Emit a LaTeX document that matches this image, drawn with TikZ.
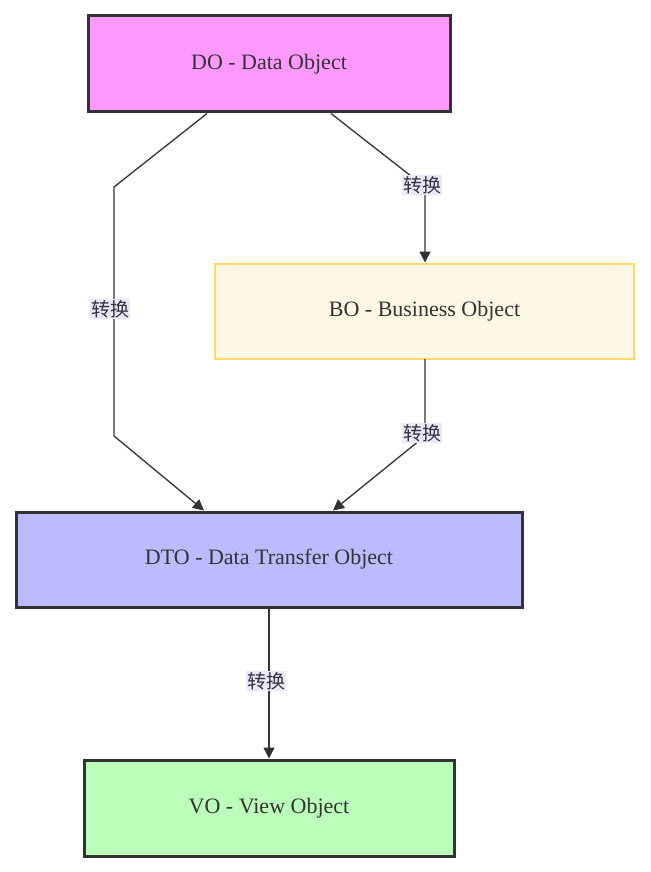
\documentclass[tikz,border=0pt]{standalone}
\usepackage{fontspec}
\setmainfont{Liberation Serif}
\newfontfamily\cjk{Noto Sans CJK SC}
\usetikzlibrary{arrows.meta}
\definecolor{dark}{HTML}{333333}
\definecolor{lbl}{HTML}{E8E8FF}
\begin{document}
\begin{tikzpicture}[x=1pt,y=-1pt,
  box/.style={draw=dark,line width=3pt,minimum height=96pt,font=\fontsize{22}{26}\selectfont,text=dark},
  edge/.style={draw=dark,line width=1.3pt,-{Triangle[length=11pt,width=11pt]}},
  lab/.style={fill=lbl,font=\cjk\fontsize{19}{22}\selectfont,text=dark,inner sep=1pt}]
\useasboundingbox (0,0) rectangle (650,872);
\node[box,fill={rgb,255:red,255;green,153;blue,255},minimum width=362pt] (do) at (269,64) {DO - Data Object};
\node[box,draw={rgb,255:red,255;green,217;blue,102},line width=1.3pt,fill={rgb,255:red,255;green,247;blue,230},minimum width=419pt,minimum height=95pt] (bo) at (424.5,311.5) {BO - Business Object};
\node[box,fill={rgb,255:red,187;green,187;blue,255},minimum width=506pt,minimum height=95pt] (dto) at (269,559.5) {DTO - Data Transfer Object};
\node[box,fill={rgb,255:red,187;green,255;blue,187},minimum width=370pt] (vo) at (269,808) {VO - View Object};
\coordinate (a1) at (114,187); \coordinate (a2) at (114,436);
\coordinate (b1) at (425,187); \coordinate (c1) at (425,436);
\draw[edge] (207,113.5) -- (a1) -- (a2) -- (204,510.5);
\draw[edge] (331,113.5) -- (b1) -- (425,262.5);
\draw[edge] (425,359) -- (c1) -- (333,510.5);
\draw[edge] (269,608) -- (269,758.5);
\node[lab] (l1) at (110,309) {转换};
\node[lab] (l2) at (422,185) {转换};
\node[lab] (l3) at (422,433) {转换};
\node[lab] (l4) at (266,681) {转换};
\end{tikzpicture}
\end{document}
